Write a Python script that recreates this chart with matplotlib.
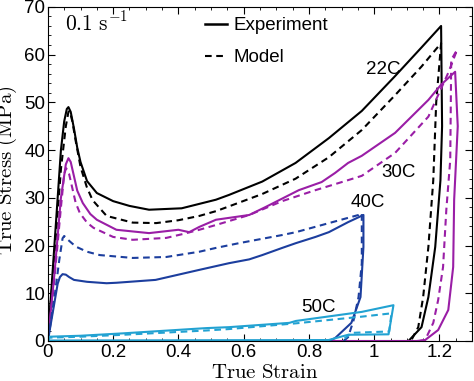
import matplotlib
matplotlib.use("Agg")
import matplotlib.pyplot as plt
from matplotlib.ticker import MultipleLocator
from matplotlib.lines import Line2D

plt.rcParams['mathtext.fontset'] = 'cm'
plt.rcParams['font.family'] = ['Liberation Sans', 'DejaVu Sans']

# ---- data ----
exp22_x = [0, 0.02, 0.04, 0.05, 0.058, 0.063, 0.07, 0.08, 0.09, 0.10, 0.12, 0.15, 0.20, 0.25, 0.31, 0.41,
           0.515, 0.555, 0.657, 0.759, 0.861, 0.962, 1.064, 1.145, 1.205, 1.208, 1.203, 1.187, 1.166,
           1.145, 1.105]
exp22_y = [0, 20, 40, 46, 48.6, 49, 48, 44.5, 40.5, 37.5, 33.5, 31, 29.3, 28.3, 27.5, 27.8,
           29.6, 30.6, 33.4, 37.3, 42.5, 48.2, 55.5, 61.5, 66, 45, 33.7, 19.7, 9.2,
           2.9, 0]

mod22_x = [0, 0.02, 0.04, 0.055, 0.063, 0.067, 0.075, 0.085, 0.10, 0.119, 0.137, 0.18, 0.26, 0.332,
           0.40, 0.464, 0.515, 0.555, 0.657, 0.759, 0.861, 0.962, 1.064, 1.145, 1.205, 1.19, 1.181,
           1.166, 1.15, 1.135, 1.114]
mod22_y = [0, 18, 36, 45, 48, 48.2, 46, 42, 36.5, 32.3, 29.5, 26.2, 24.8, 24.7,
           25.3, 26.2, 27.2, 28.2, 30.8, 34, 38.5, 44.2, 51.5, 57.5, 62.4, 50, 33.7,
           19.7, 9.2, 2.9, 0.2]

exp30_x = [0, 0.02, 0.04, 0.055, 0.063, 0.07, 0.08, 0.09, 0.107, 0.13, 0.15, 0.21, 0.31, 0.40, 0.433,
           0.464, 0.515, 0.617, 0.668, 0.769, 0.839, 0.88, 0.92, 0.962, 1.064, 1.166, 1.205, 1.248,
           1.256, 1.245, 1.242, 1.227, 1.196, 1.156, 1.13, 0.0]
exp30_y = [0, 14, 30, 37, 38.3, 37.5, 34.5, 31.5, 28.9, 26.6, 25.4, 23.3, 22.6, 23.3, 22.8,
           23.9, 25.4, 26.4, 28.1, 31.6, 33.3, 35.2, 37.3, 38.8, 43.6, 50.5, 53.7, 56.4,
           45, 29.6, 15.5, 6.5, 2.3, 0.2, 0, 0]

mod30_x = [0, 0.02, 0.04, 0.05, 0.056, 0.065, 0.075, 0.085, 0.098, 0.12, 0.14, 0.20, 0.26, 0.311, 0.363,
           0.413, 0.464, 0.515, 0.617, 0.718, 0.82, 0.92, 0.962, 1.064, 1.166, 1.227, 1.254, 1.236,
           1.233, 1.221, 1.211, 1.196, 1.181, 1.156, 1.14]
mod30_y = [0, 13, 28, 35, 36.2, 35, 32, 29, 26.8, 24.8, 23.7, 21.8, 21.2, 21.4, 21.6,
           22.4, 23.3, 24.3, 26.4, 29.3, 31.6, 33.7, 34.6, 39.4, 47, 56.2, 61, 58.9,
           37.9, 27.5, 15.5, 8.6, 3.8, 0.2, 0]

exp40_x = [0, 0.015, 0.03, 0.037, 0.045, 0.055, 0.065, 0.08, 0.12, 0.18, 0.21, 0.33, 0.464, 0.555,
           0.617, 0.657, 0.718, 0.76, 0.82, 0.861, 0.92, 0.967, 0.967, 0.958, 0.93, 0.88, 0.86]
exp40_y = [0, 6, 12, 13.4, 14, 13.9, 13.4, 12.8, 12.4, 12.1, 12.2, 12.8, 14.9, 16.3,
           17.1, 18, 19.5, 20.5, 21.8, 22.8, 24.9, 26.4, 19.7, 9.2, 3.8, 0.6, 0]

mod40_x = [0, 0.02, 0.035, 0.045, 0.05, 0.06, 0.075, 0.088, 0.12, 0.159, 0.26, 0.311, 0.363, 0.464,
           0.515, 0.586, 0.718, 0.76, 0.92, 0.952, 0.962, 0.962, 0.952, 0.937, 0.92, 0.906]
mod40_y = [0, 9, 17, 21.5, 22, 21.3, 20.4, 19.7, 18.7, 18, 17.4, 17.5, 17.6, 18.7,
           19.5, 20.5, 22.2, 22.8, 25.8, 26.4, 26.8, 16.3, 9.2, 4.4, 0.8, 0]

exp50_x = [0, 0.005, 0.1, 0.23, 0.485, 0.555, 0.74, 0.76, 0.962, 1.059, 1.05, 1.044, 0.92, 0.86, 0.0]
exp50_y = [0, 0.9, 1.1, 1.6, 2.7, 2.9, 3.8, 4.2, 6.1, 7.5, 3.8, 1.4, 1.3, 0.2, 0.1]

mod50_x = [0, 0.005, 0.1, 0.23, 0.485, 0.555, 0.76, 0.962, 1.053, 1.046, 0.93, 0.90]
mod50_y = [0, 0.7, 0.9, 1.3, 2.2, 2.5, 3.7, 5.1, 5.8, 2.0, 1.7, 0]

labels = ['22C', '30C', '40C', '50C']
label_x = [1.028, 1.074, 0.98, 0.83]
label_y = [56.8, 35.2, 29.1, 7.1]

colors = ['black', '#9a1ea6', '#1c3e9e', '#22a2d2']

fig = plt.figure(figsize=(4.74, 3.81), dpi=100)
ax = fig.add_axes([0.101, 0.105, 0.895, 0.877])

series = [(exp22_x, exp22_y, mod22_x, mod22_y),
          (exp30_x, exp30_y, mod30_x, mod30_y),
          (exp40_x, exp40_y, mod40_x, mod40_y),
          (exp50_x, exp50_y, mod50_x, mod50_y)]

lw = 1.5
dash = (0, (3.2, 2.2))
for (ex, ey, mx, my), c in zip(series, colors):
    ax.plot(ex, ey, color=c, lw=lw, solid_joinstyle='round')
    ax.plot(mx, my, color=c, lw=lw, ls=dash)

for t, x, y in zip(labels, label_x, label_y):
    ax.text(x, y, t, fontsize=13.5, ha='center', va='center')

h = [Line2D([], [], color='black', lw=1.8), Line2D([], [], color='black', lw=1.5, ls=dash)]
ax.legend(h, ['Experiment', 'Model'], loc='upper left', bbox_to_anchor=(0.33, 1.02),
          frameon=False, fontsize=13.5, handlelength=1.2, handletextpad=0.35, labelspacing=0.8)

ax.text(0.04, 0.95, r'$0.1\ \mathrm{s}^{-1}$', transform=ax.transAxes, fontsize=15.5,
        ha='left', va='center')

ax.set_xlim(0, 1.3)
ax.set_ylim(0, 70)
ax.xaxis.set_minor_locator(MultipleLocator(0.05))
ax.yaxis.set_major_locator(MultipleLocator(10))
ax.yaxis.set_minor_locator(MultipleLocator(2))
ax.set_xticks([0, 0.2, 0.4, 0.6, 0.8, 1.0, 1.2])
ax.set_xticklabels(['0', '0.2', '0.4', '0.6', '0.8', '1', '1.2'])
ax.tick_params(which='both', direction='in', top=True, right=True, labelsize=13.5, pad=2)
ax.tick_params(which='major', length=5, width=0.8)
ax.tick_params(which='minor', length=2.5, width=0.6)

ax.set_xlabel(r'$\mathrm{True\ Strain}$', fontsize=15)
ax.set_ylabel(r'$\mathrm{True\ Stress\ (MPa)}$', fontsize=15)
ax.xaxis.set_label_coords(0.512, -0.066)
ax.yaxis.set_label_coords(-0.068, 0.51)

fig.savefig('out.png', dpi=100)
